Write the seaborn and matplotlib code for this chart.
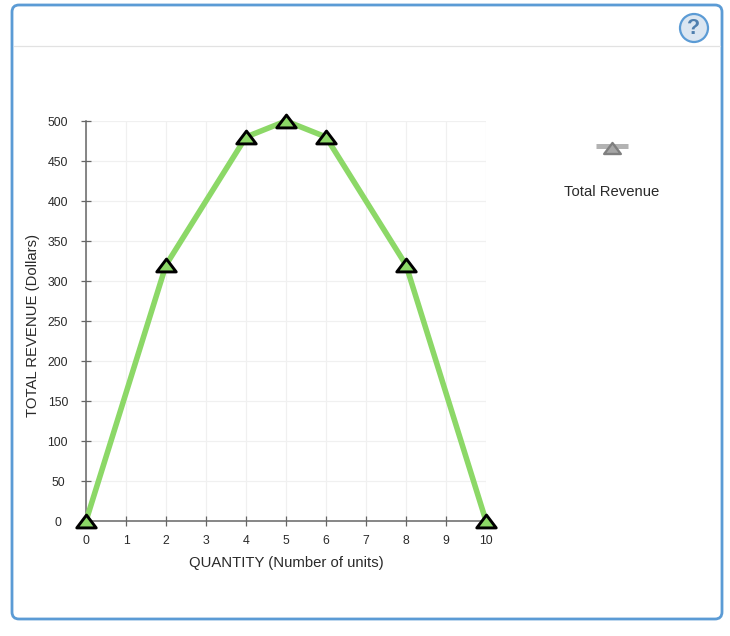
import matplotlib
matplotlib.use("Agg")
import matplotlib.pyplot as plt
import pandas as pd
import seaborn as sns
from matplotlib.lines import Line2D
from matplotlib.markers import MarkerStyle
from matplotlib.patches import Circle, FancyBboxPatch
from matplotlib.path import Path

# Chart data
QUANTITY = [0, 2, 4, 5, 6, 8, 10]
TOTAL_REVENUE = [0, 320, 480, 500, 480, 320, 0]
X_TICKS = list(range(0, 11))
Y_TICKS = list(range(0, 501, 50))

X_LABEL = "QUANTITY (Number of units)"
Y_LABEL = "TOTAL REVENUE (Dollars)"
SERIES_NAME = "Total Revenue"

# Styles
WIDTH, HEIGHT = 730, 636
LINE_GREEN = "#8cd867"
BORDER_BLUE = "#5b9bd5"
AXIS_GREY = "#666666"
GRID_GREY = "#f0f0f0"
TEXT_COLOR = "#2a2a2a"
TRIANGLE = MarkerStyle(Path([(-1.0, -0.66), (1.0, -0.66), (0.0, 0.66), (-1.0, -0.66)], closed=True),
                       joinstyle="miter")


def draw_panel(fig):
    """Frame, header rule and help icon behind the chart, in pixel coords."""
    bg = fig.add_axes([0, 0, 1, 1], zorder=0)
    bg.set_xlim(0, WIDTH)
    bg.set_ylim(HEIGHT, 0)
    bg.axis("off")
    bg.add_patch(FancyBboxPatch((12, 5), 710, 614, boxstyle="round,pad=0,rounding_size=7",
                                facecolor="white", edgecolor=BORDER_BLUE, linewidth=2.0))
    bg.add_line(Line2D([14, 720], [46, 46], color="#e2e2e2", linewidth=0.9))
    bg.add_patch(Circle((694, 28), 14, facecolor="#dbe6f1", edgecolor=BORDER_BLUE, linewidth=1.6))
    bg.text(694, 28.5, "?", ha="center", va="center", fontsize=15.5, fontweight="bold", color="#4f7fae")

    # legend sits outside the plot area, with its label under the key
    bg.add_line(Line2D([596, 628], [146, 146], color="#b3b3b3", linewidth=3.6, solid_capstyle="butt"))
    bg.add_line(Line2D([612], [147.5], marker=TRIANGLE, markersize=12, markerfacecolor="#a6a6a6",
                       markeredgecolor="#7f7f7f", markeredgewidth=1.7, linestyle="none"))
    bg.text(612, 192, SERIES_NAME, ha="center", va="center", fontsize=10.7, color=TEXT_COLOR)


def create_plot():
    sns.set_theme(style="white")
    plt.rcParams["font.family"] = ["Liberation Sans", "DejaVu Sans"]

    fig = plt.figure(figsize=(WIDTH / 100, HEIGHT / 100), dpi=100)
    draw_panel(fig)

    ax = fig.add_axes([86 / WIDTH, 1 - 521 / HEIGHT, 400 / WIDTH, 400 / HEIGHT], zorder=1)
    ax.patch.set_alpha(0)

    df = pd.DataFrame({"quantity": QUANTITY, "revenue": TOTAL_REVENUE})
    sns.lineplot(data=df, x="quantity", y="revenue", ax=ax, color=LINE_GREEN, linewidth=4.0,
                 marker=TRIANGLE, markersize=14, markerfacecolor=LINE_GREEN,
                 markeredgecolor="black", markeredgewidth=2.1, clip_on=False, zorder=5,
                 sort=False, errorbar=None)

    ax.set_xlim(0, 10)
    ax.set_ylim(0, 500)
    ax.set_xticks(X_TICKS)
    ax.set_yticks(Y_TICKS)
    ax.grid(True, color=GRID_GREY, linewidth=0.9)
    ax.set_axisbelow(True)
    sns.despine(ax=ax)
    for side in ("left", "bottom"):
        ax.spines[side].set_color(AXIS_GREY)
        ax.spines[side].set_linewidth(1.1)

    ax.tick_params(axis="x", direction="inout", length=6.5, width=0.9, color=AXIS_GREY,
                   labelsize=8.8, labelcolor=TEXT_COLOR, pad=7, bottom=True)
    ax.tick_params(axis="y", direction="inout", length=7.5, width=0.9, color=AXIS_GREY,
                   labelsize=8.8, labelcolor=TEXT_COLOR, pad=16.5, left=True)
    # the y tick labels are centred on a common column, not right-aligned
    for label in ax.get_yticklabels():
        label.set_horizontalalignment("center")

    ax.set_xlabel(X_LABEL, fontsize=10.7, color=TEXT_COLOR)
    ax.set_ylabel(Y_LABEL, fontsize=10.7, color=TEXT_COLOR)
    ax.xaxis.set_label_coords(0.5, -(562.5 - 521) / 400, transform=ax.transAxes)
    ax.yaxis.set_label_coords(-(86 - 33) / 400, (521 - 325.5) / 400, transform=ax.transAxes)
    ax.xaxis.label.set_verticalalignment("center")
    ax.yaxis.label.set_verticalalignment("center")
    ax.yaxis.label.set_horizontalalignment("center")
    ax.yaxis.label.set_rotation_mode("anchor")
    return fig


def main():
    fig = create_plot()
    fig.savefig("out.png", dpi=100)
    plt.close(fig)


if __name__ == "__main__":
    main()
